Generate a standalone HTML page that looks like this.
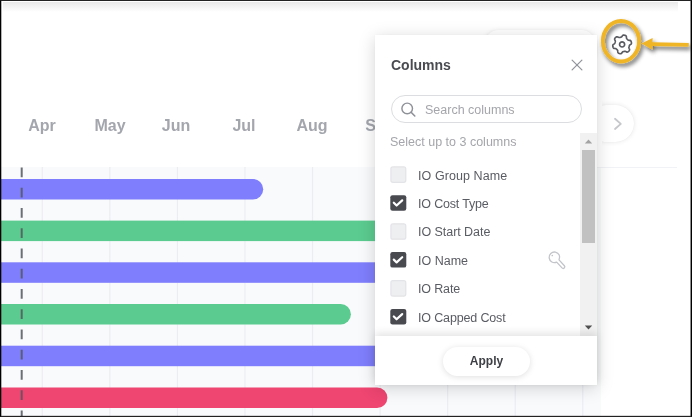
<!DOCTYPE html>
<html>
<head>
<meta charset="utf-8">
<title>Columns</title>
<style>
*{box-sizing:border-box;margin:0;padding:0}
html,body{width:692px;height:417px;overflow:hidden;background:#fff}
body{position:relative;font-family:"Liberation Sans",sans-serif;color:#55575e}
.abs{position:absolute}
.lbl,.mon,#title,#stext,#hint,#apply{will-change:transform}
/* top fade */
#topfade{left:3px;top:2px;width:675px;height:9.5px;background:linear-gradient(#e9e9e9,#fff)}
/* months */
.mon{position:absolute;top:115.6px;font-weight:bold;font-size:16px;line-height:20px;color:#a4a6ae;white-space:nowrap;transform:translateX(-50%)}
/* chart */
#chart{left:1px;top:167px;width:600px;height:250px;background:#f9fafc;overflow:hidden}
.gl{position:absolute;top:0;width:1px;height:250px;background:#eeeff3}
.bar{position:absolute;left:-20px;height:20.5px;border-radius:10.25px}
.p{background:#7f7efc}.g{background:#5bcb8f}.r{background:#ee4571}
#today{left:18.7px;top:0.5px;width:2px;height:250px;background:repeating-linear-gradient(to bottom,rgba(66,66,76,.74) 0,rgba(66,66,76,.74) 9.75px,transparent 9.75px,transparent 20.25px)}
/* panel */
#panel{left:375px;top:34.5px;width:222px;height:350px;background:#fff;box-shadow:0 3px 16px rgba(0,0,0,.17),0 0 2px rgba(0,0,0,.04)}
#title{left:15.5px;top:20px;font-weight:bold;font-size:14px;line-height:20px;color:#494b51;white-space:nowrap}
#search{left:15.5px;top:60px;width:191px;height:28px;border:1px solid #dcdde0;border-radius:14px}
#stext{left:50px;top:67.3px;font-size:12.5px;line-height:16px;color:#a5a6ab;white-space:nowrap}
#hint{left:14.8px;top:99.2px;font-size:12.5px;line-height:16px;color:#a5a6ab;white-space:nowrap}
.cb{position:absolute;left:15px;margin-top:-.2px;width:16.2px;height:16px;border-radius:2px;background:#eeeff2;border:1px solid #e5e6ea}
.cb.on{background:#44464d;border-color:#44464d}
.lbl{position:absolute;left:43.4px;margin-top:1.2px;font-size:12.5px;line-height:16px;color:#5a5c63;white-space:nowrap}
#sb{left:205px;top:98.5px;width:17px;height:203px;background:#f1f1f1}
#thumb{left:2px;top:17px;width:13px;height:93px;background:#c1c1c1}
#footer{left:0;top:301.5px;width:222px;height:48.5px;background:#fff;box-shadow:0 -3px 8px rgba(0,0,0,.11)}
#apply{left:67.5px;top:10.8px;width:87px;height:29px;border-radius:14.5px;background:#fff;box-shadow:0 1px 6px rgba(0,0,0,.13);font-weight:bold;font-size:12px;line-height:29px;text-align:center;color:#3e4046}
#navclip{left:602.3px;top:95px;width:60px;height:60px;overflow:hidden}
#nav{left:-14px;top:10.3px;width:46px;height:37px;border-radius:18.5px;background:#fff;box-shadow:0 0 5px rgba(0,0,0,.10),0 0 1px rgba(0,0,0,.06)}
#pill{left:484px;top:29.8px;width:112px;height:32px;border-radius:15px;background:#fff;box-shadow:0 1px 5px rgba(0,0,0,.13)}
#hline{left:597px;top:167px;width:80px;height:1px;background:#f1f2f5}
/* frame */
#frame{left:0;top:0;width:692px;height:417px;pointer-events:none;border:1px solid;border-color:#222 #000 #222 #000}
#frameL{left:1px;top:1px;width:1px;height:415px;background:rgba(0,0,0,.3)}
#frameR{left:690px;top:1px;width:1px;height:415px;background:rgba(0,0,0,.45)}
#frameB{left:1px;top:415px;width:690px;height:1px;background:rgba(0,0,0,.15)}
</style>
</head>
<body>
<div id="topfade" class="abs"></div>

<div class="mon" style="left:42.3px">Apr</div>
<div class="mon" style="left:110.2px">May</div>
<div class="mon" style="left:176.4px">Jun</div>
<div class="mon" style="left:244.3px">Jul</div>
<div class="mon" style="left:312.3px">Aug</div>
<div class="mon" style="left:380px">Sep</div>

<div id="chart" class="abs">
  <svg class="abs" style="left:1px;top:0" width="599" height="250" viewBox="0 0 599 250"><g stroke="#ecedf2" stroke-width="1.2" fill="none"><path d="M40.30 0V250"/><path d="M107.86 0V250"/><path d="M175.42 0V250"/><path d="M242.98 0V250"/><path d="M310.54 0V250"/><path d="M378.10 0V250"/><path d="M445.66 0V250"/><path d="M513.22 0V250"/><path d="M580.78 0V250"/></g></svg>
  <svg class="abs" style="left:0;top:0" width="600" height="250" viewBox="0 0 600 250"><rect x="-20" y="11.90" width="282.20" height="20.5" rx="10.25" fill="#7f7efc"/><rect x="-20" y="53.60" width="616" height="20.5" fill="#5bcb8f"/><rect x="-20" y="95.30" width="616" height="20.5" fill="#7f7efc"/><rect x="-20" y="137.00" width="369.90" height="20.5" rx="10.25" fill="#5bcb8f"/><rect x="-20" y="178.70" width="616" height="20.5" fill="#7f7efc"/><rect x="-20" y="220.40" width="406.40" height="20.5" rx="10.25" fill="#ee4571"/></svg>
  <svg class="abs" style="left:1px;top:0" width="60" height="250" viewBox="0 0 60 250"><path d="M19.7 0.6V250" stroke="#55565e" stroke-opacity=".85" stroke-width="2" stroke-dasharray="9.6 10.65" fill="none"/></svg>
</div>
<div id="hline" class="abs"></div>

<div id="pill" class="abs"></div>
<div id="navclip" class="abs"><div id="nav" class="abs">
  <svg class="abs" style="left:9px;top:0" width="37" height="37" viewBox="597.3 105.3 37 37"><path d="M615.3 119.1 L621.1 124.2 L615.3 129.3" fill="none" stroke="#c6c7cb" stroke-width="1.85" stroke-linecap="round" stroke-linejoin="round"/></svg>
</div></div>

<div id="panel" class="abs">
  <div id="title" class="abs">Columns</div>
  <svg class="abs" style="left:193.7px;top:22.4px" width="16" height="16" viewBox="0 0 16 16"><path d="M3.1 3.1 L12.9 12.9 M12.9 3.1 L3.1 12.9" fill="none" stroke="#92949c" stroke-width="1.25" stroke-linecap="round"/></svg>
  <div id="search" class="abs"></div>
  <svg class="abs" style="left:24px;top:65.7px" width="20" height="20" viewBox="0 0 20 20"><circle cx="8.2" cy="8.4" r="5.3" fill="none" stroke="#8f9199" stroke-width="1.45"/><path d="M12.1 12.3 L15.8 16" stroke="#8f9199" stroke-width="1.6" stroke-linecap="round"/></svg>
  <div id="stext" class="abs">Search columns</div>
  <div id="hint" class="abs">Select up to 3 columns</div>

  <div class="lbl" style="top:132px;letter-spacing:.08px">IO Group Name</div>
  <div class="lbl" style="top:160.4px;letter-spacing:-.18px">IO Cost Type</div>
  <div class="lbl" style="top:188.8px;letter-spacing:-.05px">IO Start Date</div>
  <div class="lbl" style="top:217.3px;letter-spacing:0px">IO Name</div>
  <div class="lbl" style="top:245.7px;letter-spacing:-.15px">IO Rate</div>
  <div class="lbl" style="top:274.1px;letter-spacing:-.15px">IO Capped Cost</div>

<svg class="abs" style="left:0;top:0" width="60" height="300" viewBox="0 0.4 60 300"><rect x="15.90" y="132.30" width="14.9" height="15.4" rx="2" fill="#eeeff1" stroke="#e3e4e8" stroke-width="1.2"/><rect x="15.30" y="160.54" width="16" height="15.6" rx="2.2" fill="#484a50"/><path d="M18.80 168.14 L21.60 170.94 L27.20 165.74" fill="none" stroke="#fff" stroke-width="2.2" stroke-linecap="round" stroke-linejoin="round"/><rect x="15.90" y="189.18" width="14.9" height="15.4" rx="2" fill="#eeeff1" stroke="#e3e4e8" stroke-width="1.2"/><rect x="15.30" y="217.42" width="16" height="15.6" rx="2.2" fill="#484a50"/><path d="M18.80 225.02 L21.60 227.82 L27.20 222.62" fill="none" stroke="#fff" stroke-width="2.2" stroke-linecap="round" stroke-linejoin="round"/><rect x="15.90" y="246.06" width="14.9" height="15.4" rx="2" fill="#eeeff1" stroke="#e3e4e8" stroke-width="1.2"/><rect x="15.30" y="274.30" width="16" height="15.6" rx="2.2" fill="#484a50"/><path d="M18.80 281.90 L21.60 284.70 L27.20 279.50" fill="none" stroke="#fff" stroke-width="2.2" stroke-linecap="round" stroke-linejoin="round"/></svg>
  <!-- key icon -->
  <svg class="abs" style="left:171px;top:214px" width="22" height="22" viewBox="0 0 22 22"><path d="M13.01 10.92 A5.3 5.3 0 1 0 10.66 13.1 L16.03 18.89 A1.6 1.6 0 0 0 18.37 16.71 Z" fill="none" stroke="#c2c4c9" stroke-width="1.3" stroke-linejoin="round"/><circle cx="6.3" cy="6.5" r="0.85" fill="#c2c4c9"/></svg>

  <div id="sb" class="abs">
    <div id="thumb" class="abs"></div>
    <svg class="abs" style="left:0;top:0" width="17" height="17" viewBox="0 0 17 17"><path d="M4.8 10.6 L8.5 6.4 L12.2 10.6 Z" fill="#a3a3a3"/></svg>
    <svg class="abs" style="left:0;top:185.5px" width="17" height="17" viewBox="0 0 17 17"><path d="M4.8 6.4 L8.5 10.6 L12.2 6.4 Z" fill="#505050"/></svg>
  </div>

  <div id="footer" class="abs">
    <div id="apply" class="abs">Apply</div>
  </div>
</div>

<!-- highlight ring + arrow -->
<svg class="abs" style="left:592px;top:8px" width="100" height="66" viewBox="592 8 100 66">
  <defs><filter id="ds" x="-20%" y="-20%" width="150%" height="150%"><feGaussianBlur in="SourceAlpha" stdDeviation="2.3"/><feOffset dx="1.6" dy="3"/><feComponentTransfer><feFuncA type="linear" slope="0.6"/></feComponentTransfer><feMerge><feMergeNode/><feMergeNode in="SourceGraphic"/></feMerge></filter></defs>
  <g filter="url(#ds)">
    <ellipse cx="621" cy="41.2" rx="18.1" ry="20.2" fill="none" stroke="#f0b525" stroke-width="4"/>
    <path d="M688.8 43 L652.6 42.3 L652.6 38.1 L641.5 43.6 L652.6 49.7 L652.6 46 L688.8 46.8 Z" fill="#f0b525"/>
  </g>
  <!-- gear -->
  <g transform="translate(622.1 44.4)" fill="none" stroke="#595b60" stroke-width="1.65" stroke-linejoin="round">
    <circle r="2.55"/>
    <path d="M8.64 -0.00 L9.15 -0.48 L9.34 -0.98 L9.36 -1.48 L9.29 -1.97 L9.18 -2.46 L9.02 -2.93 L8.80 -3.38 L8.47 -3.77 L7.88 -4.02 L7.07 -4.08 L6.40 -4.16 L5.99 -4.35 L5.70 -4.61 L5.43 -4.89 L5.16 -5.16 L4.90 -5.44 L4.64 -5.73 L4.43 -6.09 L4.33 -6.67 L4.32 -7.48 L4.16 -8.17 L3.82 -8.58 L3.39 -8.84 L2.93 -9.03 L2.46 -9.18 L1.97 -9.28 L1.48 -9.31 L0.97 -9.22 L0.46 -8.84 L0.00 -8.16 L-0.40 -7.62 L-0.77 -7.37 L-1.15 -7.24 L-1.52 -7.14 L-1.89 -7.05 L-2.26 -6.96 L-2.64 -6.88 L-3.06 -6.88 L-3.61 -7.08 L-4.32 -7.48 L-4.99 -7.69 L-5.52 -7.60 L-5.96 -7.36 L-6.35 -7.06 L-6.72 -6.72 L-7.05 -6.35 L-7.33 -5.93 L-7.50 -5.45 L-7.42 -4.82 L-7.07 -4.08 L-6.80 -3.47 L-6.77 -3.01 L-6.84 -2.63 L-6.95 -2.26 L-7.05 -1.89 L-7.16 -1.52 L-7.28 -1.15 L-7.49 -0.79 L-7.94 -0.42 L-8.64 -0.00 L-9.15 0.48 L-9.34 0.98 L-9.36 1.48 L-9.29 1.97 L-9.18 2.46 L-9.02 2.93 L-8.80 3.38 L-8.47 3.77 L-7.88 4.02 L-7.07 4.08 L-6.40 4.16 L-5.99 4.35 L-5.70 4.61 L-5.43 4.89 L-5.16 5.16 L-4.90 5.44 L-4.64 5.73 L-4.43 6.09 L-4.33 6.67 L-4.32 7.48 L-4.16 8.17 L-3.82 8.58 L-3.39 8.84 L-2.93 9.03 L-2.46 9.18 L-1.97 9.28 L-1.48 9.31 L-0.97 9.22 L-0.46 8.84 L-0.00 8.16 L0.40 7.62 L0.77 7.37 L1.15 7.24 L1.52 7.14 L1.89 7.05 L2.26 6.96 L2.64 6.88 L3.06 6.88 L3.61 7.08 L4.32 7.48 L4.99 7.69 L5.52 7.60 L5.96 7.36 L6.35 7.06 L6.72 6.72 L7.05 6.35 L7.33 5.93 L7.50 5.45 L7.42 4.82 L7.07 4.08 L6.80 3.47 L6.77 3.01 L6.84 2.63 L6.95 2.26 L7.05 1.89 L7.16 1.52 L7.28 1.15 L7.49 0.79 L7.94 0.42 Z"/>
  </g>
</svg>

<div id="frame" class="abs"></div>
<div id="frameL" class="abs"></div>
<div id="frameR" class="abs"></div>
<div id="frameB" class="abs"></div>
</body>
</html>
